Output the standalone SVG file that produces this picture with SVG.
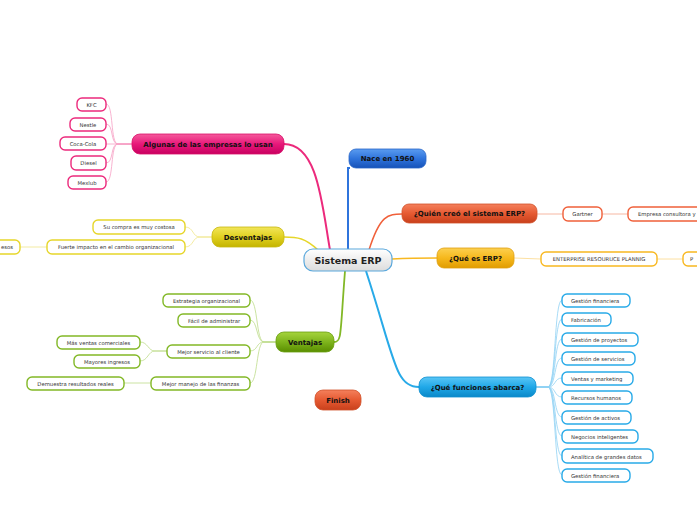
<svg xmlns="http://www.w3.org/2000/svg" width="697" height="520" viewBox="0 0 697 520">
<defs>
<linearGradient id="gC" x1="0" y1="0" x2="0" y2="1"><stop offset="0" stop-color="#ffffff"/><stop offset="1" stop-color="#dcdcdc"/></linearGradient>
<linearGradient id="gPink" x1="0" y1="0" x2="0" y2="1"><stop offset="0" stop-color="#f55a9c"/><stop offset="0.5" stop-color="#e8187a"/><stop offset="1" stop-color="#c80060"/></linearGradient>
<linearGradient id="gBlue" x1="0" y1="0" x2="0" y2="1"><stop offset="0" stop-color="#5a9cf0"/><stop offset="0.5" stop-color="#2f74dc"/><stop offset="1" stop-color="#1652b8"/></linearGradient>
<linearGradient id="gRed" x1="0" y1="0" x2="0" y2="1"><stop offset="0" stop-color="#f4805c"/><stop offset="0.5" stop-color="#e65a32"/><stop offset="1" stop-color="#c8401c"/></linearGradient>
<linearGradient id="gOrange" x1="0" y1="0" x2="0" y2="1"><stop offset="0" stop-color="#fcd050"/><stop offset="0.5" stop-color="#f6b81c"/><stop offset="1" stop-color="#e09c00"/></linearGradient>
<linearGradient id="gYellow" x1="0" y1="0" x2="0" y2="1"><stop offset="0" stop-color="#f2e65a"/><stop offset="0.5" stop-color="#e0d020"/><stop offset="1" stop-color="#c4b400"/></linearGradient>
<linearGradient id="gGreen" x1="0" y1="0" x2="0" y2="1"><stop offset="0" stop-color="#a6d43c"/><stop offset="0.5" stop-color="#7eb41c"/><stop offset="1" stop-color="#5a8e00"/></linearGradient>
<linearGradient id="gCyan" x1="0" y1="0" x2="0" y2="1"><stop offset="0" stop-color="#5ac6f6"/><stop offset="0.5" stop-color="#20a8e8"/><stop offset="1" stop-color="#0a88c8"/></linearGradient>
</defs>
<style>
text{font-family:"DejaVu Sans",Verdana,sans-serif;text-anchor:middle;fill:#222}
.main{font-size:7px;font-weight:bold;fill:#111}
.sub{font-size:5.3px;fill:#333}
.central{font-size:9.5px;font-weight:bold;fill:#222}
.box{fill:#fff;stroke-width:1.4}
.pk{stroke:#ec2a7c}.rd{stroke:#f0603a}.or{stroke:#f8b820}.ye{stroke:#e6d62a}.gr{stroke:#82b826}.cy{stroke:#28aae8}
.conn path{fill:none}
</style>
<g id="connectors" class="conn">
<path d="M330 250 C322 205 318 144 284 144" stroke="#ec2a7c" stroke-width="2"/>
<path d="M348 250 L348 168 L350 168" stroke="#2f74dc" stroke-width="2"/>
<path d="M369 250 C380 215 388 214 402 214" stroke="#f0603a" stroke-width="1.5"/>
<path d="M392 259 C412 258 420 258 437 258" stroke="#f8b820" stroke-width="1.5"/>
<path d="M318 250 C305 238 298 237 284 237" stroke="#e6d62a" stroke-width="1.5"/>
<path d="M345 271 C340 335 342 342 334 342" stroke="#82b826" stroke-width="1.8"/>
<path d="M366 271 C395 360 395 387 419 387" stroke="#28aae8" stroke-width="2"/>
<g stroke="#f6a0c4" stroke-width="0.8">
<path d="M132 144 L118 144 C110 144 114 104 106 104"/>
<path d="M132 144 L118 144 C110 144 114 124 106 124"/>
<path d="M132 144 L106 144"/>
<path d="M132 144 L118 144 C110 144 114 163 106 163"/>
<path d="M132 144 L118 144 C110 144 114 182 106 182"/>
</g>
<g stroke="#f4a48c" stroke-width="0.8">
<path d="M537 214 L563 214"/>
<path d="M602 214 L628 214"/>
</g>
<g stroke="#fbd88a" stroke-width="0.8">
<path d="M514 258 L541 259"/>
<path d="M657 259 L683 259"/>
</g>
<g stroke="#f0e68a" stroke-width="0.8">
<path d="M212 237 L200 237 C192 237 194 227 185 227"/>
<path d="M212 237 L200 237 C192 237 194 247 185 247"/>
<path d="M47 247 L20 247"/>
</g>
<g stroke="#bedc8a" stroke-width="0.8">
<path d="M276 342 L264 342 C256 342 258 300 250 300"/>
<path d="M276 342 L264 342 C256 342 258 320 250 320"/>
<path d="M276 342 L264 342 C256 342 258 351 250 351"/>
<path d="M276 342 L264 342 C256 342 258 383 250 383"/>
<path d="M167 351 L155 351 C148 351 148 342 140 342"/>
<path d="M167 351 L155 351 C148 351 148 361 140 361"/>
<path d="M151 383 L124 383"/>
</g>
<g stroke="#90d2f4" stroke-width="0.8">
<path d="M536 387 L548 387 C556 387 554 300 562 300"/>
<path d="M536 387 L548 387 C556 387 554 319 562 319"/>
<path d="M536 387 L548 387 C556 387 554 339 562 339"/>
<path d="M536 387 L548 387 C556 387 554 358 562 358"/>
<path d="M536 387 L548 387 C556 387 554 378 562 378"/>
<path d="M536 387 L548 387 C556 387 554 397 562 397"/>
<path d="M536 387 L548 387 C556 387 554 417 562 417"/>
<path d="M536 387 L548 387 C556 387 554 436 562 436"/>
<path d="M536 387 L548 387 C556 387 554 456 562 456"/>
<path d="M536 387 L548 387 C556 387 554 475 562 475"/>
</g>
</g>

<g id="central"><rect x="304" y="249" width="88" height="22" rx="9" fill="url(#gC)" stroke="#5aa8dc" stroke-width="1.2"/><text class="central" x="348" y="263.5">Sistema ERP</text></g>

<g id="nace"><rect x="349" y="149" width="77" height="19" rx="7" fill="url(#gBlue)" stroke="#2a66c8" stroke-width="0.8"/><text class="main" x="387.5" y="161">Nace en 1960</text></g>

<g id="quien"><rect x="402" y="204" width="135" height="19" rx="7" fill="url(#gRed)" stroke="#d0502a" stroke-width="0.8"/><text class="main" x="469.5" y="216">¿Quién creó el sistema ERP?</text></g>
<g id="gartner"><rect class="box rd" x="563" y="207" width="39" height="14" rx="5"/><text class="sub" x="582.5" y="216">Gartner</text></g>
<g id="empresa"><rect class="box rd" x="628" y="207" width="90" height="14" rx="5"/><text class="sub" x="638" y="216" style="text-anchor:start">Empresa consultora y</text></g>

<g id="quees"><rect x="437" y="248" width="77" height="20" rx="7" fill="url(#gOrange)" stroke="#e0a010" stroke-width="0.8"/><text class="main" x="475.5" y="260.5">¿Qué es ERP?</text></g>
<g id="enterprise"><rect class="box or" x="541" y="252" width="116" height="14" rx="5"/><text class="sub" x="599" y="261">ENTERPRISE RESOURUCE PLANNIG</text></g>
<g id="p"><rect class="box or" x="683" y="252" width="40" height="14" rx="5"/><text class="sub" x="690" y="261" style="text-anchor:start">P</text></g>

<g id="algunas"><rect x="132" y="134" width="152" height="20" rx="8" fill="url(#gPink)" stroke="#d81068" stroke-width="0.8"/><text class="main" x="208" y="146.5">Algunas de las empresas lo usan</text></g>
<g id="kfc"><rect class="box pk" x="77" y="98" width="29" height="13" rx="5"/><text class="sub" x="91.5" y="106.5">KFC</text></g>
<g id="nestle"><rect class="box pk" x="70" y="118" width="36" height="13" rx="5"/><text class="sub" x="88" y="126.5">Nestle</text></g>
<g id="cocacola"><rect class="box pk" x="60" y="137" width="46" height="13" rx="5"/><text class="sub" x="83" y="145.5">Coca-Cola</text></g>
<g id="diesel"><rect class="box pk" x="71" y="156" width="35" height="14" rx="5"/><text class="sub" x="88.5" y="165">Diesel</text></g>
<g id="mexlub"><rect class="box pk" x="68" y="176" width="38" height="13" rx="5"/><text class="sub" x="87" y="184.5">Mexlub</text></g>

<g id="desventajas"><rect x="212" y="227" width="72" height="20" rx="8" fill="url(#gYellow)" stroke="#c8b810" stroke-width="0.8"/><text class="main" x="248" y="239.5">Desventajas</text></g>
<g id="costosa"><rect class="box ye" x="93" y="220" width="92" height="14" rx="5"/><text class="sub" x="139" y="229">Su compra es muy costosa</text></g>
<g id="impacto"><rect class="box ye" x="47" y="240" width="138" height="14" rx="5"/><text class="sub" x="116" y="249">Fuerte impacto en el cambio organizacional</text></g>
<g id="esos"><rect class="box ye" x="-40" y="240" width="60" height="14" rx="5"/><text class="sub" x="13" y="249" style="text-anchor:end">esos</text></g>

<g id="ventajas"><rect x="276" y="332" width="58" height="20" rx="8" fill="url(#gGreen)" stroke="#6a9e10" stroke-width="0.8"/><text class="main" x="305" y="344.5">Ventajas</text></g>
<g id="estrategia"><rect class="box gr" x="163" y="294" width="87" height="13" rx="5"/><text class="sub" x="206.5" y="302.5">Estrategia organizacional</text></g>
<g id="facil"><rect class="box gr" x="178" y="314" width="72" height="13" rx="5"/><text class="sub" x="214" y="322.5">Fácil de administrar</text></g>
<g id="servicio"><rect class="box gr" x="167" y="345" width="83" height="13" rx="5"/><text class="sub" x="208.5" y="353.5">Mejor servicio al cliente</text></g>
<g id="ventas"><rect class="box gr" x="57" y="336" width="83" height="13" rx="5"/><text class="sub" x="98.5" y="344.5">Más ventas comerciales</text></g>
<g id="ingresos"><rect class="box gr" x="74" y="355" width="66" height="13" rx="5"/><text class="sub" x="107" y="363.5">Mayores ingresos</text></g>
<g id="finanzas"><rect class="box gr" x="151" y="377" width="99" height="13" rx="5"/><text class="sub" x="200.5" y="385.5">Mejor manejo de las finanzas</text></g>
<g id="resultados"><rect class="box gr" x="27" y="377" width="97" height="13" rx="5"/><text class="sub" x="75.5" y="385.5">Demuestra resultados reales</text></g>

<g id="finish"><rect x="315" y="390" width="46" height="20" rx="8" fill="url(#gRed)" stroke="#d0502a" stroke-width="0.8"/><text class="main" x="338" y="402.5">Finish</text></g>

<g id="funciones"><rect x="419" y="377" width="117" height="20" rx="8" fill="url(#gCyan)" stroke="#1090d0" stroke-width="0.8"/><text class="main" x="477.5" y="389.5">¿Qué funciones abarca?</text></g>
<g id="f1"><rect class="box cy" x="562" y="294" width="68" height="13" rx="5"/><text class="sub" x="571" y="302.5" style="text-anchor:start">Gestión financiera</text></g>
<g id="f2"><rect class="box cy" x="562" y="313" width="49" height="13" rx="5"/><text class="sub" x="571" y="321.5" style="text-anchor:start">Fabricación</text></g>
<g id="f3"><rect class="box cy" x="562" y="333" width="76" height="13" rx="5"/><text class="sub" x="571" y="341.5" style="text-anchor:start">Gestión de proyectos</text></g>
<g id="f4"><rect class="box cy" x="562" y="352" width="73" height="13" rx="5"/><text class="sub" x="571" y="360.5" style="text-anchor:start">Gestión de servicios</text></g>
<g id="f5"><rect class="box cy" x="562" y="372" width="71" height="13" rx="5"/><text class="sub" x="571" y="380.5" style="text-anchor:start">Ventas y marketing</text></g>
<g id="f6"><rect class="box cy" x="562" y="391" width="70" height="13" rx="5"/><text class="sub" x="571" y="399.5" style="text-anchor:start">Recursos humanos</text></g>
<g id="f7"><rect class="box cy" x="562" y="411" width="69" height="13" rx="5"/><text class="sub" x="571" y="419.5" style="text-anchor:start">Gestión de activos</text></g>
<g id="f8"><rect class="box cy" x="562" y="430" width="76" height="13" rx="5"/><text class="sub" x="571" y="438.5" style="text-anchor:start">Negocios inteligentes</text></g>
<g id="f9"><rect class="box cy" x="562" y="449" width="91" height="14" rx="5"/><text class="sub" x="571" y="458.5" style="text-anchor:start">Analítica de grandes datos</text></g>
<g id="f10"><rect class="box cy" x="562" y="469" width="68" height="13" rx="5"/><text class="sub" x="571" y="477.5" style="text-anchor:start">Gestión financiera</text></g>
</svg>
